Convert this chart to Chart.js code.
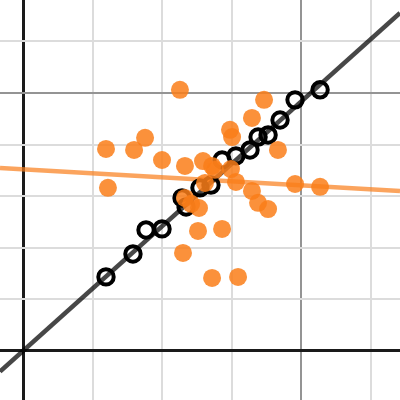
<!DOCTYPE html>
<html>
<head>
<meta charset="utf-8">
<script src="https://cdn.jsdelivr.net/npm/chart.js@4"></script>
<style>
  html, body { margin: 0; padding: 0; background: #fff; }
  #plot { display: block; }
</style>
</head>
<body>
<canvas id="plot" width="400" height="400"></canvas>
<script>
// observed points (orange, filled)
let orangeX = [11.29, 5.97, 7.99, 8.78, 10.00, 6.11, 11.65, 12.95, 13.60, 14.89, 15.04, 16.47, 17.34,
  18.34, 14.96, 15.32, 16.47, 16.91, 17.63, 19.57, 21.37, 13.09, 11.65, 12.10, 12.66, 12.59, 14.32,
  11.51, 13.60, 15.47, 13.81];
let orangeY = [10.12, 7.83, 7.79, 8.26, 7.40, 6.32, 7.17, 7.36, 7.17, 8.57, 8.29, 9.03, 9.73,
  7.79, 7.05, 6.55, 6.20, 5.74, 5.50, 6.47, 6.36, 6.51, 5.93, 5.70, 5.54, 4.65, 4.73,
  3.80, 2.83, 2.87, 7.02];

// fitted points (black, open)
let blackX = [5.97, 7.91, 8.85, 10.00, 11.44, 11.73, 12.73, 13.52, 14.32, 15.32, 16.33, 16.91, 17.63,
  18.49, 19.57, 21.37];
let blackY = [2.87, 3.76, 4.69, 4.73, 5.93, 5.58, 6.32, 6.43, 7.40, 7.56, 7.79, 8.29, 8.37,
  8.95, 9.73, 10.12];

// line end points
let lineX = [-1.655, 27.12];
let blackLineY = [-0.80, 13.10];
let orangeLineY = [7.09, 6.20];

// axis window and grid lines
let xRange = [-1.655, 27.12];
let yRange = [-1.90, 13.60];
let xGrid = [0, 5, 10, 15, 20, 25];
let yGrid = [0, 2, 4, 6, 8, 10, 12];
let xMajor = 20, yMajor = 10;

let toPoints = (xs, ys) => xs.map((x, i) => ({ x: x, y: ys[i] }));

let gridColor = (major) => (ctx) => {
  let v = ctx.tick.value;
  if (Math.abs(v) < 1e-9) return "#1a1a1a";
  if (Math.abs(v / major - Math.round(v / major)) < 1e-6) return "#949494";
  return "#dcdcdc";
};
let gridWidth = (ctx) => (Math.abs(ctx.tick.value) < 1e-9 ? 3 : 2);
let setTicks = (values) => (scale) => {
  scale.ticks = values.map((v) => ({ value: v }));
};

new Chart(document.getElementById("plot"), {
  type: "scatter",
  data: {
    datasets: [
      {
        data: toPoints(orangeX, orangeY),
        pointRadius: 9,
        pointBorderWidth: 0,
        backgroundColor: "rgba(250,126,25,0.85)",
        borderColor: "rgba(0,0,0,0)",
      },
      {
        data: toPoints(blackX, blackY),
        pointRadius: 7.7,
        pointBorderWidth: 4,
        backgroundColor: "rgba(0,0,0,0)",
        borderColor: "#000",
      },
      {
        data: toPoints(lineX, blackLineY),
        showLine: true,
        pointRadius: 0,
        borderWidth: 4.5,
        borderColor: "rgba(0,0,0,0.72)",
      },
      {
        data: toPoints(lineX, orangeLineY),
        showLine: true,
        pointRadius: 0,
        borderWidth: 4.5,
        borderColor: "rgba(250,126,25,0.7)",
      },
    ],
  },
  options: {
    responsive: false,
    animation: false,
    layout: { padding: 0, autoPadding: false },
    plugins: { legend: { display: false }, tooltip: { enabled: false } },
    scales: {
      x: {
        type: "linear",
        min: xRange[0],
        max: xRange[1],
        afterBuildTicks: setTicks(xGrid),
        ticks: { display: false },
        grid: { color: gridColor(xMajor), lineWidth: gridWidth, drawTicks: false },
        border: { display: false },
      },
      y: {
        type: "linear",
        min: yRange[0],
        max: yRange[1],
        afterBuildTicks: setTicks(yGrid),
        ticks: { display: false },
        grid: { color: gridColor(yMajor), lineWidth: gridWidth, drawTicks: false },
        border: { display: false },
      },
    },
  },
});
</script>
</body>
</html>
